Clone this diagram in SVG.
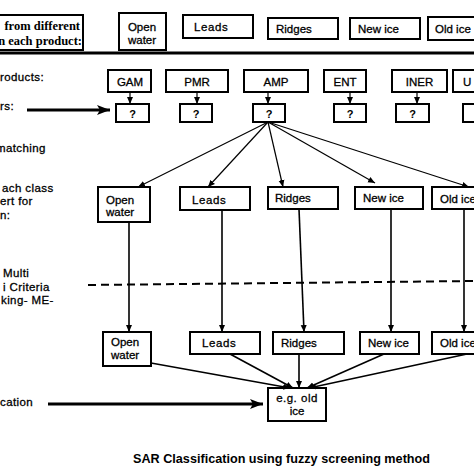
<svg xmlns="http://www.w3.org/2000/svg" width="474" height="474" viewBox="0 0 474 474">
<style>
.box{fill:#fff;stroke:#000;stroke-width:2}
.t{font-family:"Liberation Sans",Arial,sans-serif;font-size:11.5px;fill:#000;stroke:#000;stroke-width:0.3}
.tc{text-anchor:middle}
.q{font-family:"Liberation Sans",Arial,sans-serif;font-size:11px;font-weight:bold;fill:#000;text-anchor:middle}
.lab{font-family:"Liberation Sans",Arial,sans-serif;font-size:11.5px;fill:#000;stroke:#000;stroke-width:0.3;letter-spacing:0.4px}
.serif{font-family:"Liberation Serif","Times New Roman",serif;font-size:12.5px;font-weight:bold;fill:#000;text-anchor:end}
.thin{fill:none;stroke:#000;stroke-width:1.2}
.mid{fill:none;stroke:#000;stroke-width:1.6}
.thick{fill:none;stroke:#000;stroke-width:3.2}
</style>
<defs>
<marker id="ah" markerUnits="userSpaceOnUse" markerWidth="8" markerHeight="8" viewBox="0 0 8 8" refX="7" refY="4" orient="auto">
<path d="M0,1 L7,4 L0,7 Z" fill="#000"/>
</marker>
<marker id="ahb" markerUnits="userSpaceOnUse" markerWidth="14" markerHeight="12" viewBox="0 0 14 12" refX="13" refY="6" orient="auto">
<path d="M0,1 L13,6 L0,11 L3,6 Z" fill="#000"/>
</marker>
</defs>

<!-- top row -->
<g id="legend-box">
<rect class="box" x="-5" y="15" width="88" height="35"/>
<text class="serif" x="80" y="30">from different</text>
<text class="serif" x="82" y="45">n each product:</text>
</g>
<g id="top-open-water">
<rect class="box" x="119" y="13" width="47" height="37"/>
<text class="t tc" x="142" y="31">Open</text>
<text class="t tc" x="142" y="44">water</text>
</g>
<g id="top-leads">
<rect class="box" x="183" y="15" width="70" height="23"/>
<text class="t" x="194" y="31" letter-spacing="0.6">Leads</text>
</g>
<g id="top-ridges">
<rect class="box" x="268" y="18" width="70" height="21"/>
<text class="t" x="276" y="33">Ridges</text>
</g>
<g id="top-new-ice">
<rect class="box" x="350" y="18" width="70" height="21"/>
<text class="t" x="358" y="33">New ice</text>
</g>
<g id="top-old-ice">
<rect class="box" x="428" y="17" width="60" height="23"/>
<text class="t" x="435" y="33">Old ice</text>
</g>

<!-- left labels -->
<g id="left-labels">
<text class="lab" x="0" y="81">roducts:</text>
<text class="lab" x="0" y="110">rs:</text>
<text class="lab" x="-4" y="152">matching</text>
<text class="lab" x="2" y="192">ach class</text>
<text class="lab" x="0" y="205">ert for</text>
<text class="lab" x="0" y="219">n:</text>
<text class="lab" x="3" y="277">Multi</text>
<text class="lab" x="3" y="291">i Criteria</text>
<text class="lab" x="1" y="304">king- ME-</text>
<text class="lab" x="0" y="406">cation</text>
</g>

<!-- products -->
<g id="gam"><rect class="box" x="108" y="70" width="43" height="22"/><text class="t tc" x="130" y="86">GAM</text></g>
<g id="pmr"><rect class="box" x="166" y="70" width="62" height="22"/><text class="t tc" x="197" y="86">PMR</text></g>
<g id="amp"><rect class="box" x="244" y="70" width="64" height="22"/><text class="t tc" x="276" y="86">AMP</text></g>
<g id="ent"><rect class="box" x="324" y="70" width="42" height="22"/><text class="t tc" x="345" y="86">ENT</text></g>
<g id="iner"><rect class="box" x="392" y="70" width="55" height="22"/><text class="t tc" x="419.5" y="86">INER</text></g>
<g id="u"><rect class="box" x="453" y="70" width="40" height="22"/><text class="t" x="463" y="86">U</text></g>

<!-- question boxes -->
<g id="q-gam"><rect class="box" x="116" y="104" width="33" height="18"/><text class="q" x="132.5" y="118">?</text></g>
<g id="q-pmr"><rect class="box" x="180" y="104" width="32" height="18"/><text class="q" x="196" y="118">?</text></g>
<g id="q-amp"><rect class="box" x="253" y="104" width="32" height="18"/><text class="q" x="269" y="118">?</text></g>
<g id="q-ent"><rect class="box" x="334" y="104" width="32" height="18"/><text class="q" x="350" y="118">?</text></g>
<g id="q-iner"><rect class="box" x="396" y="104" width="33" height="18"/><text class="q" x="412.5" y="118">?</text></g>
<g id="q-u"><rect class="box" x="463" y="104" width="33" height="18"/></g>

<!-- class boxes row 3 -->
<g id="c-open-water"><rect class="box" x="98" y="187" width="52" height="35"/><text class="t" x="106" y="204">Open</text><text class="t" x="106" y="216">water</text></g>
<g id="c-leads"><rect class="box" x="180" y="187" width="70" height="23"/><text class="t" x="192" y="204" letter-spacing="0.6">Leads</text></g>
<g id="c-ridges"><rect class="box" x="268" y="187" width="70" height="22"/><text class="t" x="275" y="202">Ridges</text></g>
<g id="c-new-ice"><rect class="box" x="355" y="187" width="68" height="22"/><text class="t" x="363" y="202">New ice</text></g>
<g id="c-old-ice"><rect class="box" x="432" y="187" width="60" height="22"/><text class="t" x="440" y="203">Old ice</text></g>

<!-- bottom boxes row 4 -->
<g id="b-open-water"><rect class="box" x="103" y="332" width="48" height="34"/><text class="t" x="111" y="346">Open</text><text class="t" x="111" y="359">water</text></g>
<g id="b-leads"><rect class="box" x="190" y="332" width="70" height="22"/><text class="t" x="202" y="347" letter-spacing="0.6">Leads</text></g>
<g id="b-ridges"><rect class="box" x="273" y="332" width="71" height="22"/><text class="t" x="281" y="347">Ridges</text></g>
<g id="b-new-ice"><rect class="box" x="360" y="332" width="59" height="22"/><text class="t" x="368" y="347">New ice</text></g>
<g id="b-old-ice"><rect class="box" x="432" y="332" width="60" height="22"/><text class="t" x="440" y="347">Old ice</text></g>

<!-- result -->
<g id="result"><rect class="box" x="268" y="388" width="58" height="33"/><text class="t tc" x="297" y="402" letter-spacing="0.5">e.g. old</text><text class="t tc" x="297" y="415">ice</text></g>

<!-- connectors -->
<g id="connectors">
<line x1="0" y1="53" x2="474" y2="53" stroke="#000" stroke-width="3"/>
<line x1="88" y1="285" x2="474" y2="281" stroke="#000" stroke-width="2" stroke-dasharray="8,5"/>
<line class="thick" x1="27" y1="110" x2="110" y2="110" marker-end="url(#ahb)"/>
<line class="thick" x1="48" y1="404" x2="263" y2="404" marker-end="url(#ahb)"/>
<line class="thin" x1="130" y1="92" x2="130" y2="104" marker-end="url(#ah)"/>
<line class="thin" x1="197" y1="92" x2="197" y2="104" marker-end="url(#ah)"/>
<line class="thin" x1="268" y1="92" x2="268" y2="104" marker-end="url(#ah)"/>
<line class="thin" x1="350" y1="92" x2="350" y2="104" marker-end="url(#ah)"/>
<line class="thin" x1="417" y1="92" x2="417" y2="104" marker-end="url(#ah)"/>
<line class="thin" x1="268" y1="122" x2="138" y2="187" marker-end="url(#ah)"/>
<line class="thin" x1="268" y1="122" x2="208" y2="187" marker-end="url(#ah)"/>
<line class="thin" x1="268" y1="122" x2="283" y2="187" marker-end="url(#ah)"/>
<line class="thin" x1="268" y1="122" x2="375" y2="183" marker-end="url(#ah)"/>
<line class="thin" x1="268" y1="122" x2="469" y2="187" marker-end="url(#ah)"/>
<line class="mid" x1="129" y1="222" x2="129" y2="332" marker-end="url(#ah)"/>
<line class="mid" x1="222" y1="210" x2="222" y2="332" marker-end="url(#ah)"/>
<line class="mid" x1="299" y1="209" x2="304" y2="332" marker-end="url(#ah)"/>
<line class="mid" x1="391" y1="209" x2="391" y2="332" marker-end="url(#ah)"/>
<line class="mid" x1="464" y1="209" x2="464" y2="332" marker-end="url(#ah)"/>
<line class="mid" x1="151" y1="363" x2="290" y2="388" marker-end="url(#ah)"/>
<line class="mid" x1="230" y1="354" x2="293" y2="388" marker-end="url(#ah)"/>
<line class="mid" x1="299" y1="354" x2="299" y2="388" marker-end="url(#ah)"/>
<line class="mid" x1="384" y1="354" x2="307" y2="388" marker-end="url(#ah)"/>
<line class="mid" x1="467" y1="354" x2="309" y2="388" marker-end="url(#ah)"/>
</g>

<text id="title" x="281.5" y="463" text-anchor="middle" textLength="297" lengthAdjust="spacingAndGlyphs" font-family="'Liberation Sans',Arial,sans-serif" font-size="13.5" font-weight="bold">SAR Classification using fuzzy screening method</text>
</svg>
